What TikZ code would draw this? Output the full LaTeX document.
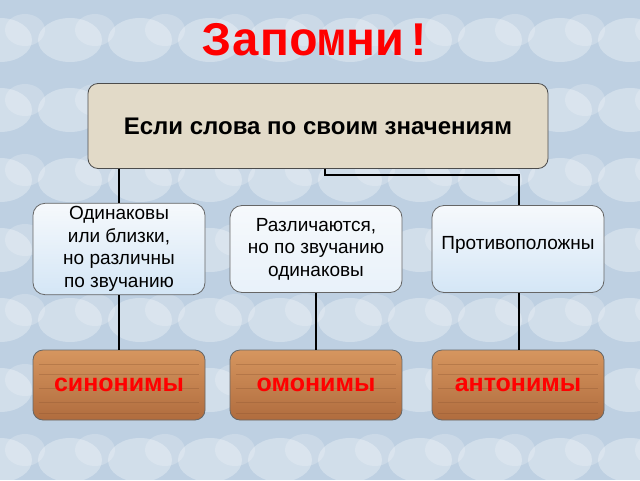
\documentclass[tikz,border=0pt]{standalone}
\usepackage{fontspec}
\usetikzlibrary{calc}
\setmainfont{Liberation Sans}
\newfontfamily\monofont{Liberation Mono}
\definecolor{bgc}{RGB}{190,208,226}
\definecolor{linen}{RGB}{226,218,200}
\definecolor{woodA}{RGB}{214,150,95}
\definecolor{woodB}{RGB}{176,108,62}
\definecolor{skyA}{RGB}{246,249,252}
\definecolor{skyB}{RGB}{212,230,246}
\begin{document}
\begin{tikzpicture}[x=1pt,y=-1pt,
  conn/.style={line width=1.6pt,black},
  topbox/.style={draw=black!70,line width=0.8pt,rounded corners=10pt,fill=linen,minimum width=460pt,minimum height=85pt,font=\bfseries\fontsize{24}{28}\selectfont},
  midbox/.style={draw=black!60,line width=0.8pt,rounded corners=12pt,top color=skyA,bottom color=skyB,minimum width=172pt,minimum height=87pt,align=center,font=\fontsize{19}{22.5}\selectfont},
  woodbox/.style={draw=black!60,line width=0.8pt,rounded corners=10pt,top color=woodA,bottom color=woodB,minimum width=172pt,minimum height=70pt},
  woodtext/.style={text=red,font=\bfseries\fontsize{25}{28}\selectfont}]
\useasboundingbox (0,0) rectangle (640,480);
\fill[bgc] (0,0) rectangle (640,480);
\foreach \yy in {40,110,180,250,320,390,460}{
  \foreach \xx in {0,70,...,640}{
    \fill[white,opacity=0.3] (\xx,\yy) ellipse (32pt and 22pt);
    \fill[white,opacity=0.2] (\xx+25,\yy-10) ellipse (20pt and 16pt);
  }
}
\node[text=red,font=\monofont\bfseries\fontsize{48}{50}\selectfont] (title) at (318,40) {Запомни!};
\node[topbox] (top) at (318,126) {Если слова по своим значениям};
\node[midbox] (m1) at (119,249) {Одинаковы\\или близки,\\но различны\\по звучанию};
\node[midbox,top color=skyA,bottom color=skyA!60!skyB] (m2) at (316,249) {Различаются,\\но по звучанию\\одинаковы};
\node[midbox] (m3) at (518,249) {\raisebox{12pt}{Противоположны}};
\foreach \w/\x in {w1/119,w2/316,w3/518}{
  \node[woodbox] (\w) at (\x,385) {};
  \foreach \f in {0.2,0.35,0.55,0.75,0.9}{
    \draw[woodB!80!black,opacity=0.35,line width=0.5pt] ($(\w.north west)!\f!(\w.south west)+(6,0)$) -- ($(\w.north east)!\f!(\w.south east)+(-6,0)$);
  }
}
\node[woodtext] at (w1) {синонимы};
\node[woodtext] at (w2) {омонимы};
\node[woodtext] at (w3) {антонимы};
\coordinate (c1) at (325,175);
\coordinate (c2) at (519,175);
\draw[conn] (top.south -| m1.north) -- (m1.north);
\draw[conn] (top.south -| c1) -- (c1) -- (c2) -- (m3.north -| c2);
\draw[conn] (m1) -- (w1);
\draw[conn] (m2.south) -- (w2.north);
\draw[conn] (m3.south -| c2) -- (w3.north -| c2);
\end{tikzpicture}
\end{document}
